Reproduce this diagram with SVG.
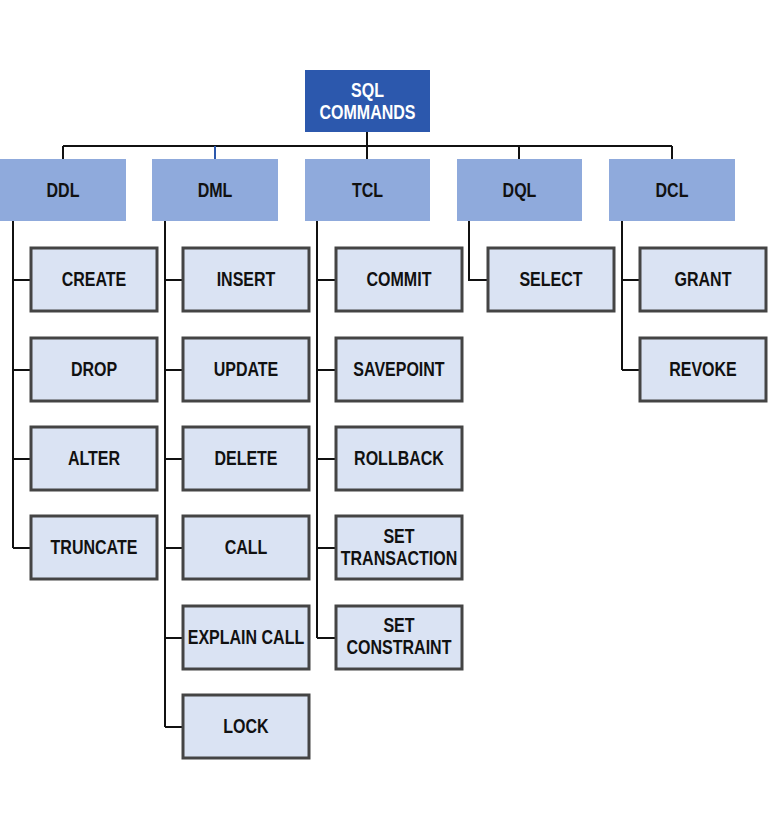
<svg xmlns="http://www.w3.org/2000/svg" width="768" height="828" viewBox="0 0 768 828">
<style>
text{font-family:"Liberation Sans",Arial,sans-serif;font-weight:bold;font-size:20px;text-anchor:middle;fill:#111;transform-box:fill-box;transform-origin:center;transform:scaleX(0.8)}
.root rect{fill:#2c58ad}
.root text{fill:#fff}
.cat rect{fill:#8faadc}
.leaf rect{fill:#dae3f3;stroke:#444;stroke-width:3}
.conn path{fill:none;stroke:#111;stroke-width:2}
</style>
<rect width="768" height="828" fill="#fff"/>
<g class="conn" id="connectors">
<path d="M367 132V146M63 146H672M63 146V159M367 146V159M519 146V159M672 146V159"/>
<path d="M215 146V159" style="stroke:#2c58ad"/>
<path d="M13 221V548M13 280H31M13 370H31M13 459H31M13 548H31"/>
<path d="M165 221V727M165 280H183M165 370H183M165 459H183M165 548H183M165 638H183M165 727H183"/>
<path d="M317 221V638M317 280H336M317 370H336M317 459H336M317 548H336M317 638H336"/>
<path d="M469 221V280H488"/>
<path d="M622 221V370M622 280H640M622 370H640"/>
</g>
<g class="root" id="sql"><rect x="305" y="70" width="125" height="62"/><text x="367.5" y="97">SQL</text><text x="367.5" y="119">COMMANDS</text></g>
<g class="cat" id="ddl"><rect x="0" y="159" width="126" height="62"/><text x="63" y="197">DDL</text></g>
<g class="cat" id="dml"><rect x="152" y="159" width="126" height="62"/><text x="215" y="197">DML</text></g>
<g class="cat" id="tcl"><rect x="305" y="159" width="125" height="62"/><text x="367.5" y="197">TCL</text></g>
<g class="cat" id="dql"><rect x="457" y="159" width="125" height="62"/><text x="519.5" y="197">DQL</text></g>
<g class="cat" id="dcl"><rect x="609" y="159" width="126" height="62"/><text x="672" y="197">DCL</text></g>
<g class="leaf" id="create"><rect x="31" y="248" width="126" height="63"/><text x="94" y="286">CREATE</text></g>
<g class="leaf" id="drop"><rect x="31" y="338" width="126" height="63"/><text x="94" y="376">DROP</text></g>
<g class="leaf" id="alter"><rect x="31" y="427" width="126" height="63"/><text x="94" y="465">ALTER</text></g>
<g class="leaf" id="truncate"><rect x="31" y="516" width="126" height="63"/><text x="94" y="554">TRUNCATE</text></g>
<g class="leaf" id="insert"><rect x="183" y="248" width="126" height="63"/><text x="246" y="286">INSERT</text></g>
<g class="leaf" id="update"><rect x="183" y="338" width="126" height="63"/><text x="246" y="376">UPDATE</text></g>
<g class="leaf" id="delete"><rect x="183" y="427" width="126" height="63"/><text x="246" y="465">DELETE</text></g>
<g class="leaf" id="call"><rect x="183" y="516" width="126" height="63"/><text x="246" y="554">CALL</text></g>
<g class="leaf" id="explaincall"><rect x="183" y="606" width="126" height="63"/><text x="246" y="644">EXPLAIN CALL</text></g>
<g class="leaf" id="lock"><rect x="183" y="695" width="126" height="63"/><text x="246" y="733">LOCK</text></g>
<g class="leaf" id="commit"><rect x="336" y="248" width="126" height="63"/><text x="399" y="286">COMMIT</text></g>
<g class="leaf" id="savepoint"><rect x="336" y="338" width="126" height="63"/><text x="399" y="376">SAVEPOINT</text></g>
<g class="leaf" id="rollback"><rect x="336" y="427" width="126" height="63"/><text x="399" y="465">ROLLBACK</text></g>
<g class="leaf" id="settransaction"><rect x="336" y="516" width="126" height="63"/><text x="399" y="543">SET</text><text x="399" y="565">TRANSACTION</text></g>
<g class="leaf" id="setconstraint"><rect x="336" y="606" width="126" height="63"/><text x="399" y="632">SET</text><text x="399" y="654">CONSTRAINT</text></g>
<g class="leaf" id="select"><rect x="488" y="248" width="126" height="63"/><text x="551" y="286">SELECT</text></g>
<g class="leaf" id="grant"><rect x="640" y="248" width="126" height="63"/><text x="703" y="286">GRANT</text></g>
<g class="leaf" id="revoke"><rect x="640" y="338" width="126" height="63"/><text x="703" y="376">REVOKE</text></g>
</svg>
